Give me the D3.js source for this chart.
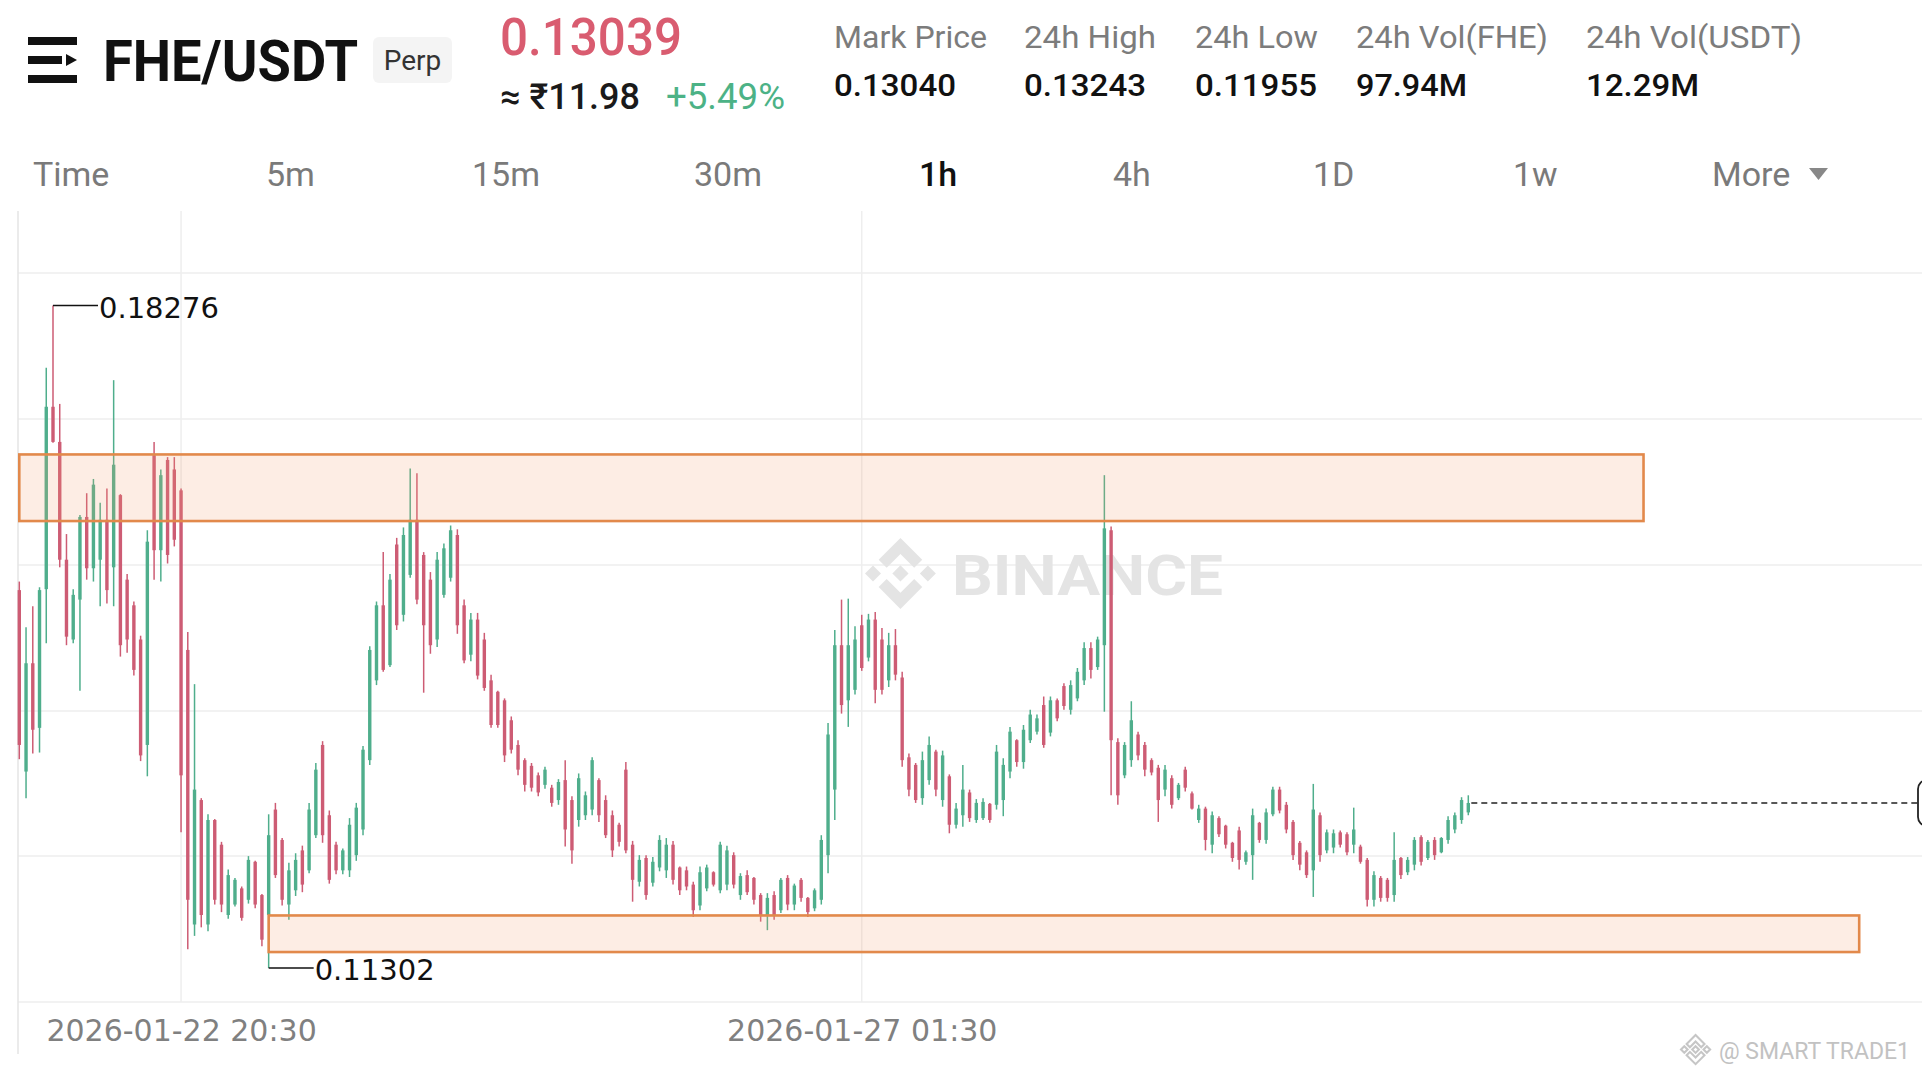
<!DOCTYPE html>
<html><head><meta charset="utf-8">
<script src="https://cdn.jsdelivr.net/npm/d3@7"></script>
<style>
html,body{margin:0;padding:0;background:#fff;overflow:hidden}
svg{display:block}
</style></head><body>
<svg id="chart" width="1922" height="1074"></svg>
<script>
// ---------------- DATA ----------------
const startTime = "2026-01-21 20:30"; // 1h candles
const opens = [.1528,.1337,.1451,.1383,.1529,.1721,.1684,.1560,.1476,.1518,
.1605,.1551,.1560,.1602,.1552,.1628,.1539,.1512,.1476,.1365,
.1670,.1570,.1665,.1655,.1633,.1465,.1176,.1307,.1176,.1286,
.1260,.1186,.1197,.1214,.1202,.1242,.1207,.1186,.1297,.1265,
.1197,.1212,.1254,.1233,.1270,.1365,.1291,.1260,.1233,.1233,
.1249,.1276,.1349,.1433,.1512,.1449,.1576,.1502,.1544,.1602,
.1565,.1539,.1476,.1523,.1541,.1586,.1512,.1460,.1497,.1476,
.1433,.1421,.1412,.1391,.1365,.1349,.1343,.1333,.1323,.1320,
.1307,.1328,.1307,.1286,.1291,.1297,.1328,.1307,.1291,.1281,
.1339,.1260,.1221,.1246,.1220,.1236,.1233,.1260,.1236,.1233,
.1218,.1196,.1214,.1231,.1212,.1218,.1249,.1207,.1228,.1225,
.1207,.1186,.1207,.1191,.1225,.1197,.1223,.1204,.1193,.1202,
.1249,.1318,.1470,.1412,.1423,.1491,.1457,.1497,.1476,.1433,
.1470,.1436,.1352,.1344,.1309,.1328,.1358,.1307,.1332,.1281,
.1291,.1315,.1286,.1288,.1303,.1302,.1307,.1337,.1370,.1347,
.1370,.1379,.1407,.1378,.1412,.1427,.1402,.1414,.1433,.1467,
.1447,.1470,.1591,.1368,.1333,.1349,.1376,.1365,.1349,.1341,
.1318,.1330,.1309,.1339,.1314,.1286,.1298,.1260,.1288,.1280,
.1262,.1275,.1242,.1249,.1283,.1265,.1292,.1318,.1302,.1284,
.1262,.1252,.1233,.1291,.1254,.1257,.1273,.1271,.1260,.1258,
.1244,.1202,.1225,.1223,.1207,.1246,.1231,.1239,.1268,.1246,
.1265,.1252,.1265,.1276,.1286,.1294];
const highs = [.1537,.1489,.1511,.1531,.1762,.18276,.1724,.1587,.1529,.1607,
.1630,.1645,.1620,.1635,.1749,.1629,.1545,.1516,.1480,.1591,
.1684,.1655,.1668,.1668,.1635,.1484,.1429,.1309,.1292,.1287,
.1263,.1234,.1225,.1216,.1248,.1243,.1208,.1292,.1304,.1267,
.1241,.1251,.1259,.1304,.1346,.1369,.1296,.1263,.1256,.1288,
.1304,.1364,.1469,.1516,.1568,.1545,.1583,.1594,.1656,.1651,
.1568,.1547,.1568,.1577,.1596,.1592,.1518,.1504,.1504,.1483,
.1439,.1422,.1414,.1395,.1370,.1351,.1346,.1336,.1342,.1323,
.1329,.1349,.1311,.1335,.1316,.1352,.1330,.1312,.1296,.1283,
.1347,.1264,.1249,.1249,.1247,.1270,.1267,.1264,.1237,.1237,
.1221,.1237,.1239,.1232,.1263,.1259,.1252,.1230,.1233,.1226,
.1209,.1209,.1211,.1225,.1228,.1219,.1225,.1205,.1214,.1270,
.1388,.1486,.1518,.1519,.1490,.1502,.1503,.1505,.1488,.1483,
.1487,.1442,.1356,.1346,.1358,.1374,.1360,.1359,.1334,.1304,
.1344,.1318,.1308,.1309,.1304,.1365,.1351,.1384,.1371,.1386,
.1402,.1397,.1416,.1416,.1414,.1430,.1433,.1446,.1473,.1473,
.1479,.1649,.1595,.1372,.1368,.1411,.1379,.1368,.1351,.1344,
.1344,.1333,.1325,.1342,.1316,.1302,.1300,.1295,.1290,.1281,
.1263,.1279,.1254,.1298,.1284,.1298,.1321,.1321,.1305,.1286,
.1264,.1254,.1324,.1294,.1276,.1276,.1275,.1273,.1299,.1260,
.1246,.1232,.1227,.1225,.1273,.1247,.1247,.1268,.1270,.1265,
.1268,.1268,.1290,.1294,.1310,.1312];
const lows = [.1350,.1309,.1356,.1357,.1472,.1683,.1552,.1470,.1472,.1422,
.1539,.1537,.1511,.1514,.1511,.1458,.1462,.1438,.1348,.1332,
.1539,.1537,.1556,.1574,.1273,.1150,.1164,.1173,.1169,.1197,
.1189,.1182,.1195,.1180,.1198,.1193,.1153,.11302,.1225,.1196,
.1181,.1206,.1210,.1230,.1267,.1262,.1219,.1229,.1229,.1226,
.1243,.1270,.1344,.1428,.1442,.1447,.1486,.1495,.1541,.1513,
.1420,.1461,.1468,.1520,.1537,.1482,.1451,.1453,.1434,.1422,
.1383,.1383,.1347,.1356,.1333,.1316,.1316,.1311,.1319,.1300,
.1302,.1258,.1240,.1279,.1286,.1291,.1284,.1267,.1247,.1258,
.1251,.1200,.1216,.1202,.1216,.1232,.1225,.1218,.1207,.1212,
.1184,.1191,.1211,.1216,.1209,.1212,.1214,.1202,.1207,.1197,
.1179,.1170,.1181,.1188,.1191,.1191,.1200,.1184,.1190,.1197,
.1230,.1286,.1398,.1384,.1418,.1443,.1453,.1409,.1418,.1426,
.1433,.1342,.1311,.1304,.1302,.1323,.1311,.1300,.1272,.1277,
.1279,.1284,.1283,.1286,.1283,.1297,.1290,.1330,.1342,.1340,
.1367,.1376,.1362,.1374,.1390,.1402,.1397,.1411,.1428,.1435,
.1444,.1400,.1312,.1302,.1330,.1342,.1349,.1332,.1333,.1284,
.1311,.1298,.1307,.1316,.1297,.1283,.1254,.1251,.1268,.1256,
.1242,.1234,.1239,.1223,.1262,.1261,.1290,.1293,.1272,.1244,
.1233,.1225,.1205,.1242,.1251,.1251,.1257,.1249,.1251,.1240,
.1195,.1195,.1200,.1200,.1200,.1224,.1228,.1233,.1238,.1244,
.1244,.1251,.1261,.1272,.1282,.1291];
const closes = [.1365,.1451,.1381,.1528,.1721,.1684,.1560,.1479,.1523,.1605,
.1551,.1639,.1602,.1528,.1660,.1470,.1476,.1444,.1354,.1579,
.1570,.1649,.1565,.1581,.1333,.1202,.1318,.1186,.1286,.1202,
.1197,.1228,.1223,.1183,.1244,.1197,.1160,.1270,.1228,.1202,
.1233,.1244,.1218,.1297,.1339,.1270,.1223,.1233,.1254,.1281,
.1299,.1360,.1465,.1512,.1444,.1539,.1491,.1586,.1602,.1518,
.1491,.1470,.1560,.1572,.1591,.1491,.1454,.1497,.1438,.1425,
.1386,.1386,.1354,.1360,.1339,.1323,.1320,.1315,.1339,.1304,
.1326,.1276,.1254,.1330,.1312,.1349,.1291,.1270,.1254,.1263,
.1254,.1223,.1244,.1207,.1242,.1265,.1260,.1223,.1212,.1216,
.1191,.1231,.1236,.1218,.1260,.1254,.1218,.1227,.1210,.1202,
.1186,.1204,.1186,.1223,.1197,.1217,.1204,.1189,.1212,.1265,
.1376,.1470,.1407,.1470,.1476,.1446,.1497,.1423,.1423,.1470,
.1439,.1349,.1318,.1307,.1349,.1365,.1318,.1354,.1281,.1298,
.1318,.1288,.1304,.1305,.1286,.1358,.1344,.1379,.1347,.1381,
.1397,.1393,.1365,.1412,.1393,.1406,.1428,.1442,.1467,.1444,
.1476,.1593,.1370,.1312,.1365,.1391,.1354,.1339,.1336,.1307,
.1339,.1302,.1323,.1320,.1298,.1298,.1265,.1291,.1271,.1260,
.1246,.1244,.1252,.1291,.1265,.1294,.1318,.1296,.1276,.1249,
.1239,.1228,.1297,.1249,.1273,.1272,.1260,.1252,.1276,.1242,
.1202,.1228,.1204,.1204,.1244,.1228,.1244,.1265,.1242,.1263,
.1249,.1267,.1286,.1291,.1307,.13039];
const gridPrices = [0.10944, 0.12481, 0.14007, 0.15544, 0.17081, 0.18618];
const timeTicks = ["2026-01-22 20:30", "2026-01-27 01:30"];
const zoneStarts = ["2026-01-21 20:30", "2026-01-23 09:30"];
const zoneEnds = ["2026-01-31 21:30", "2026-02-02 05:30"];
const zoneTops = [0.16708, 0.11855];
const zoneBottoms = [0.16007, 0.11470];
const lastPrice = 0.13039;
const pairName = "FHE/USDT";
const priceText = "0.13039";
const fiatText = "≈ ₹11.98";
const changeText = "+5.49%";
const statLabels = ["Mark Price", "24h High", "24h Low", "24h Vol(FHE)", "24h Vol(USDT)"];
const statValues = ["0.13040", "0.13243", "0.11955", "97.94M", "12.29M"];
const timeframes = ["Time", "5m", "15m", "30m", "1h", "4h", "1D", "1w", "More"];
const activeFrame = "1h";

// ---------------- LAYOUT ----------------
const W = 1922, H = 1074;
const GREEN = "#4fae8c", RED = "#cd5c74";
const svg = d3.select("#chart");
const parse = d3.timeParse("%Y-%m-%d %H:%M");
const fmt = d3.timeFormat("%Y-%m-%d %H:%M");
const t0 = parse(startTime);
const times = opens.map((_, i) => d3.timeHour.offset(t0, i));
const candles = times.map((t, i) => ({t, o: opens[i], h: highs[i], l: lows[i], c: closes[i]}));

const x = d3.scaleTime().domain([times[0], times[times.length - 1]]).range([19.3, 1468.3]);
const y = d3.scaleLinear().domain([0.11302, 0.18276]).range([968, 305.5]);

const UI = "Roboto, 'Noto Sans', 'DejaVu Sans', sans-serif";
const CH = "'DejaVu Sans', 'Noto Sans', sans-serif";

// ---- header ----
const hdr = svg.append("g");
hdr.append("rect").attr("x", 28).attr("y", 37).attr("width", 49).attr("height", 8).attr("fill", "#111");
hdr.append("rect").attr("x", 28).attr("y", 56).attr("width", 34).attr("height", 8).attr("fill", "#111");
hdr.append("path").attr("d", "M66,54 L77,60 L66,66 Z").attr("fill", "#111");
hdr.append("rect").attr("x", 28).attr("y", 75).attr("width", 49).attr("height", 8).attr("fill", "#111");

hdr.append("text").attr("x", 103).attr("y", 81).text(pairName)
  .attr("font-family", UI).attr("font-weight", 700).attr("font-size", 57).attr("fill", "#111")
  .attr("textLength", 255).attr("lengthAdjust", "spacingAndGlyphs");
hdr.append("rect").attr("x", 373).attr("y", 37).attr("width", 79).attr("height", 46).attr("rx", 6).attr("fill", "#f4f4f4");
hdr.append("text").attr("x", 412.5).attr("y", 70).attr("text-anchor", "middle").text("Perp")
  .attr("font-family", UI).attr("font-size", 28).attr("fill", "#333");

hdr.append("text").attr("x", 500).attr("y", 55).text(priceText)
  .attr("font-family", UI).attr("font-weight", 500).attr("font-size", 52).attr("fill", "#d95c70")
  .attr("textLength", 182).attr("lengthAdjust", "spacingAndGlyphs");
hdr.append("text").attr("x", 500).attr("y", 109).text(fiatText)
  .attr("font-family", UI).attr("font-weight", 500).attr("font-size", 36).attr("fill", "#1a1a1a")
  .attr("textLength", 140).attr("lengthAdjust", "spacingAndGlyphs");
hdr.append("text").attr("x", 666).attr("y", 109).text(changeText)
  .attr("font-family", UI).attr("font-size", 36).attr("fill", "#4cb286")
  .attr("textLength", 119).attr("lengthAdjust", "spacingAndGlyphs");

const statX = [834, 1024, 1195, 1356, 1586];
const statLW = [153, 132, 123, 192, 216];
const statVW = [122, 122, 122, 111, 113];
statLabels.forEach((s, i) => {
  hdr.append("text").attr("x", statX[i]).attr("y", 48).text(s)
    .attr("font-family", UI).attr("font-size", 32).attr("fill", "#7c7c7c")
    .attr("textLength", statLW[i]).attr("lengthAdjust", "spacingAndGlyphs");
  hdr.append("text").attr("x", statX[i]).attr("y", 96).text(statValues[i])
    .attr("font-family", UI).attr("font-weight", 500).attr("font-size", 32).attr("fill", "#111")
    .attr("textLength", statVW[i]).attr("lengthAdjust", "spacingAndGlyphs");
});

// ---- timeframe tabs ----
const tabX = [33, 266, 472, 694, 919, 1113, 1313, 1513, 1712];
timeframes.forEach((s, i) => {
  hdr.append("text").attr("x", tabX[i]).attr("y", 186).text(s)
    .attr("font-family", UI).attr("font-size", 34)
    .attr("font-weight", s === activeFrame ? 500 : 400)
    .attr("fill", s === activeFrame ? "#111" : "#7a7a7a");
});
hdr.append("path").attr("d", "M1809,168 L1828,168 L1818.5,180 Z").attr("fill", "#888");

// ---- grid ----
const grid = svg.append("g");
grid.selectAll("line.h").data(gridPrices).join("line")
  .attr("x1", 18).attr("x2", W).attr("y1", d => y(d)).attr("y2", d => y(d))
  .attr("stroke", "#eeeeee").attr("stroke-width", 1.5);
grid.selectAll("line.v").data(timeTicks.map(parse)).join("line")
  .attr("x1", d => x(d)).attr("x2", d => x(d)).attr("y1", 211).attr("y2", y(gridPrices[0]))
  .attr("stroke", "#eeeeee").attr("stroke-width", 1.5);
grid.append("line").attr("x1", 18).attr("x2", 18).attr("y1", 211).attr("y2", 1054)
  .attr("stroke", "#e4e4e4").attr("stroke-width", 1.5);

// ---- watermark ----
const wm = svg.append("g").attr("fill", "#e4e4e4");
const logoPaths = [
  "M38.73,53.2 L63.3,28.64 L87.89,53.22 L102.19,38.92 L63.3,0 L24.42,38.9 Z",
  "M0,63.31 L14.3,49.01 L28.6,63.31 L14.3,77.61 Z",
  "M38.73,73.41 L63.3,97.97 L87.88,73.39 L102.19,87.68 L63.3,126.61 L24.42,87.72 Z",
  "M98.01,63.31 L112.31,49.01 L126.61,63.31 L112.31,77.61 Z",
  "M77.82,63.3 L63.3,48.78 L48.79,63.28 L63.3,77.83 Z"
];
const bigLogo = wm.append("g").attr("transform", "translate(865,538) scale(0.56)");
logoPaths.forEach(p => bigLogo.append("path").attr("d", p));
wm.append("text").attr("x", 952).attr("y", 595).text("BINANCE")
  .attr("font-family", UI).attr("font-weight", 700).attr("font-size", 56)
  .attr("textLength", 271).attr("lengthAdjust", "spacingAndGlyphs");

// ---- candles ----
const cg = svg.append("g");
cg.selectAll("line").data(candles).join("line")
  .attr("x1", d => x(d.t)).attr("x2", d => x(d.t))
  .attr("y1", d => y(d.h)).attr("y2", d => y(d.l))
  .attr("stroke", d => d.c >= d.o ? GREEN : RED).attr("stroke-width", 1.5);
cg.selectAll("rect").data(candles).join("rect")
  .attr("x", d => x(d.t) - 1.7).attr("width", 3.4)
  .attr("y", d => y(Math.max(d.o, d.c)))
  .attr("height", d => Math.max(1.2, Math.abs(y(d.o) - y(d.c))))
  .attr("fill", d => d.c >= d.o ? GREEN : RED);

// ---- zones ----
const zg = svg.append("g");
zoneStarts.forEach((s, i) => {
  const x0 = x(parse(s)), x1 = x(parse(zoneEnds[i]));
  zg.append("rect").attr("x", x0).attr("y", y(zoneTops[i]))
    .attr("width", x1 - x0).attr("height", y(zoneBottoms[i]) - y(zoneTops[i]))
    .attr("fill", "rgba(245,160,110,0.19)").attr("stroke", "#e2894b").attr("stroke-width", 2.6);
});

// ---- last price line ----
const last = candles[candles.length - 1];
svg.append("line").attr("x1", x(last.t) + 3).attr("x2", 1918)
  .attr("y1", y(lastPrice)).attr("y2", y(lastPrice))
  .attr("stroke", "#222").attr("stroke-width", 1.5).attr("stroke-dasharray", "6,4");
svg.append("rect").attr("x", 1918).attr("y", y(lastPrice) - 23).attr("width", 80).attr("height", 46)
  .attr("rx", 9).attr("fill", "#fff").attr("stroke", "#222").attr("stroke-width", 1.8);

// ---- high / low annotations ----
const hiIdx = d3.maxIndex(candles, d => d.h);
const loIdx = d3.minIndex(candles, d => d.l);
const ann = svg.append("g");
[[hiIdx, "h"], [loIdx, "l"]].forEach(([idx, k]) => {
  const d = candles[idx];
  const px = x(d.t), py = y(d[k]);
  ann.append("line").attr("x1", px).attr("x2", px + 45).attr("y1", py).attr("y2", py)
    .attr("stroke", "#111").attr("stroke-width", 1.5);
  ann.append("text").attr("x", px + 46).attr("y", py + 12).text(d3.format(".5f")(d[k]))
    .attr("font-family", CH).attr("font-size", 29).attr("fill", "#111");
});

// ---- time axis ----
const axis = d3.axisBottom(x).tickValues(timeTicks.map(parse)).tickFormat(fmt).tickSize(0);
const ax = svg.append("g").attr("transform", "translate(0,1017)").call(axis);
ax.select(".domain").remove();
ax.selectAll("text").attr("font-family", CH).attr("font-size", 30).attr("fill", "#808080").attr("dy", "0.71em");

// ---- bottom-right watermark ----
const sm = svg.append("g");
const smallLogo = sm.append("g").attr("transform", "translate(1681,1035) scale(0.23)")
  .attr("fill", "none").attr("stroke", "#c6c6c6").attr("stroke-width", 9);
logoPaths.forEach(p => smallLogo.append("path").attr("d", p));
sm.append("text").attr("x", 1910).attr("y", 1059).attr("text-anchor", "end").text("@ SMART TRADE1")
  .attr("font-family", UI).attr("font-size", 23).attr("fill", "#c2c2c2");
</script>
</body></html>
